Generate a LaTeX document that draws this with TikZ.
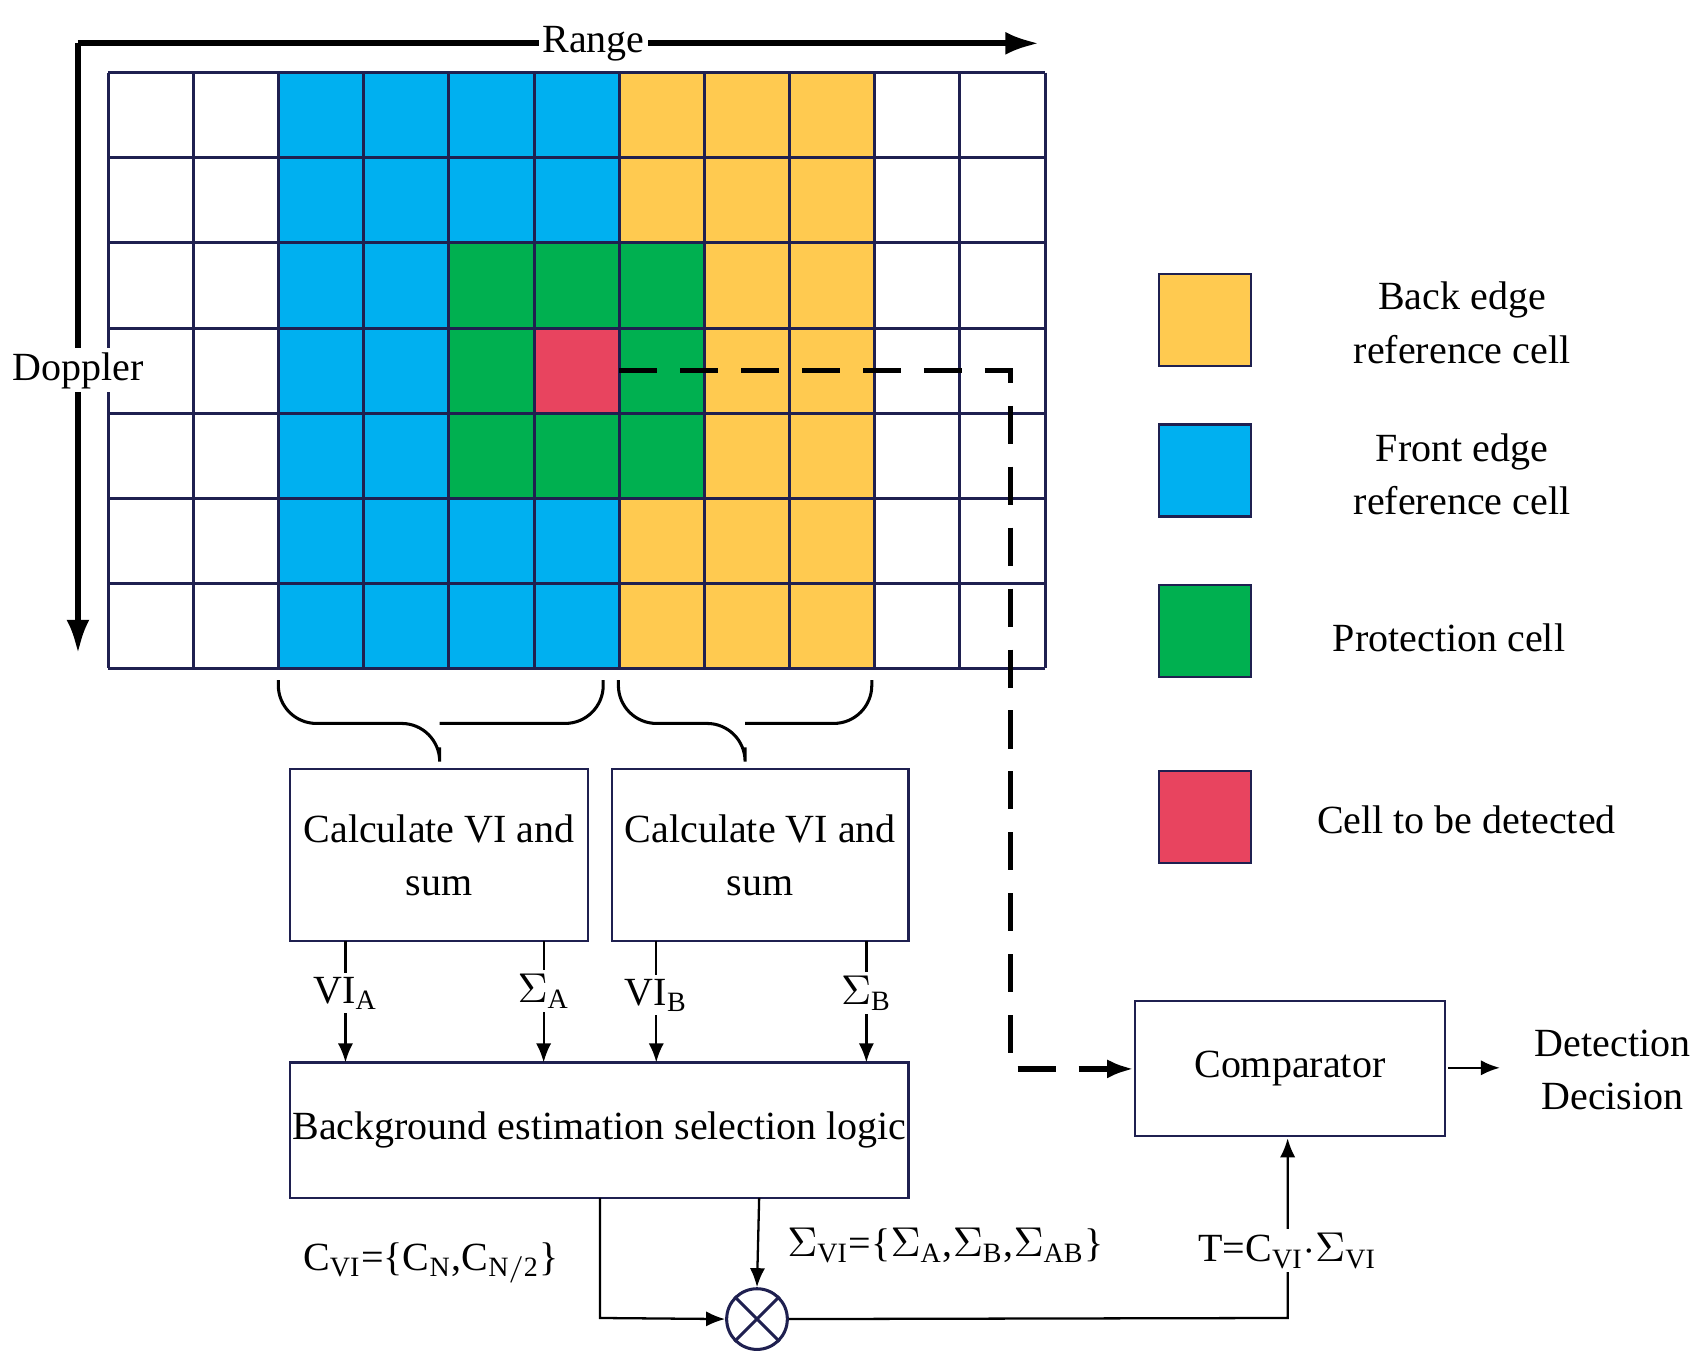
\documentclass[tikz,border=0pt]{standalone}
\usepackage{fontspec}
\setmainfont{Liberation Serif}
\usetikzlibrary{arrows.meta}
\definecolor{cb}{HTML}{00B0F0}
\definecolor{cy}{HTML}{FFCA50}
\definecolor{cg}{HTML}{00B050}
\definecolor{cr}{HTML}{E8445F}
\definecolor{nv}{HTML}{1F2050}
\begin{document}
\begin{tikzpicture}[x=0.01cm,y=-0.01cm,font=\fontsize{10.5}{14}\selectfont,
 box/.style={draw=nv,line width=0.6pt},
 cell/.style={draw=nv,line width=0.6pt},
 arr/.style={-{Latex[length=5pt,width=4pt]},line width=0.6pt},
 lbl/.style={fill=white,inner sep=1pt}]
\useasboundingbox (0,0) rectangle (1567,1266);
\def\cs{78.64}
% grid
\foreach \r in {0,...,6}{\foreach \c in {0,...,10}{
  \pgfmathtruncatemacro{\col}{ (\c<2 || \c>8) ? 0 : ( (\c>5) ? 2 : 1 ) }
  \ifnum\col=0 \def\fc{white}\fi
  \ifnum\col=1 \def\fc{cb}\fi
  \ifnum\col=2 \def\fc{cy}\fi
  \ifnum\r>1 \ifnum\r<5 \ifnum\c>3 \ifnum\c<7 \def\fc{cg}\fi\fi\fi\fi
  \ifnum\r=3 \ifnum\c=5 \def\fc{cr}\fi\fi
  \fill[\fc] ({100+\c*\cs},{67+\r*\cs}) rectangle ++(\cs,\cs);
}}
\foreach \c in {0,...,11} \draw[nv,line width=0.8pt] ({100+\c*\cs},67) -- ({100+\c*\cs},617);
\foreach \r in {0,...,7} \draw[nv,line width=0.8pt] (100,{67+\r*\cs}) -- (965,{67+\r*\cs});
\coordinate (cut) at ({100+6*\cs},342);
% axes
\coordinate (o) at (72,40); \coordinate (rx) at (960,40); \coordinate (dy) at (72,604);
\draw[-{Latex[length=9pt,width=6pt]},line width=1.6pt] (o) -- (rx);
\draw[-{Latex[length=9pt,width=6pt]},line width=1.6pt] (o) -- (dy);
\node[lbl] (range) at (548,40) {Range};
\node[lbl] (dop) at (72,342) {Doppler};
% braces
\draw[line width=0.8pt,rounded corners=10pt] (257,628) -- (257,668) -- (406,668) -- (406,690);
\draw[line width=0.8pt,rounded corners=10pt] (557,628) -- (557,668) -- (406,668);
\draw[line width=0.8pt,rounded corners=10pt] (571,628) -- (571,668) -- (688,668) -- (688,690);
\draw[line width=0.8pt,rounded corners=10pt] (805,628) -- (805,668) -- (688,668);
% boxes
\draw[box] (268,710) rectangle (543,869);
\node[align=center] (c1) at (405.5,789.5) {Calculate VI and\\sum};
\draw[box] (565,710) rectangle (839,869);
\node[align=center] (c2) at (702,789.5) {Calculate VI and\\sum};
\draw[box] (268,981) rectangle (839,1106);
\node (bg) at (553.5,1043.5) {Background estimation selection logic};
\draw[box] (1048,924) rectangle (1334,1049);
\node (cmp) at (1191,986.5) {Comparator};
\node[align=center] (dd) at (1489,988) {Detection\\Decision};
% arrows calc->bg
\foreach \x/\t/\yy in {319/VI$_{\mathrm{A}}$/917, 502/$\Sigma_{\mathrm{A}}$/915, 606/VI$_{\mathrm{B}}$/919, 800/$\Sigma_{\mathrm{B}}$/917}{
  \draw[arr] (\x,869) -- (\x,981);
  \node[lbl] at (\x,\yy) {\t};
}
% multiplier
\node[draw=nv,circle,line width=0.8pt,inner sep=0pt,minimum size=0.56cm] (m) at (699,1218) {};
\draw[nv,line width=0.8pt] (m.north west) -- (m.south east) (m.north east) -- (m.south west);
\draw[arr] (554,1106) -- (554,1217) -- (m.west);
\draw[arr] (701,1106) -- (m.north);
\draw[arr] (m.east) -- (1189,1217) -- (1189,1051);
\node[lbl] (t) at (1189,1155) {T=C$_{\mathrm{VI}}$$\cdot\Sigma_{\mathrm{VI}}$};
\node (cvi) at (398,1166) {C$_{\mathrm{VI}}$=\{C$_{\mathrm{N}}$,C$_{\mathrm{N/2}}$\}};
\node (svi) at (873,1150) {$\Sigma_{\mathrm{VI}}$=\{$\Sigma_{\mathrm{A}}$,$\Sigma_{\mathrm{B}}$,$\Sigma_{\mathrm{AB}}$\}};
% dashed
\draw[-{Latex[length=7pt,width=5pt]},line width=1.4pt,dash pattern=on 10pt off 6pt] (cut) -- (933,342) -- (933,987) -- (1047,987);
\draw[arr] (1337,986) -- (1385,986);
% legend
\draw[cell,fill=cy] (1070,253) rectangle (1155,338);
\draw[cell,fill=cb] (1070,392) rectangle (1155,477);
\draw[cell,fill=cg] (1070,540) rectangle (1155,625);
\draw[cell,fill=cr] (1070,712) rectangle (1155,797);
\node[align=center] (l1) at (1350,298) {Back edge\\reference cell};
\node[align=center] (l2) at (1350,438) {Front edge\\reference cell};
\node (l3) at (1338,589) {Protection cell};
\node (l4) at (1354,757) {Cell to be detected};
\end{tikzpicture}
\end{document}
